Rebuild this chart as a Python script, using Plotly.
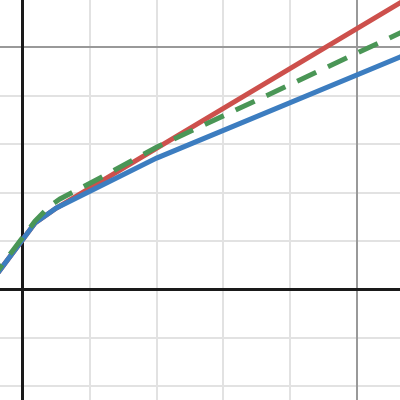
import plotly.graph_objects as go

# Data (grid units: minor = 1, major = 5)
red_x = [-0.5, -0.344, 0.18, 0.5, 2.0, 5.644, 6.0]
red_y = [0.11, 0.40, 1.37, 1.68, 2.91, 5.915, 6.21]

blue_x = [-0.5, -0.344, 0.18, 0.5, 2.0, 5.644, 6.0]
blue_y = [0.11, 0.40, 1.37, 1.68, 2.71, 4.80, 5.00]

green_x = [-0.5, -0.344, 0.0, 0.18, 0.404, 0.554, 1.153, 2.006, 5.644, 6.0]
green_y = [0.16, 0.44, 1.06, 1.41, 1.72, 1.866, 2.30, 2.94, 5.296, 5.53]

x_range = [-0.344, 5.644]
y_range = [-2.287, 5.977]

fig = go.Figure()
fig.add_trace(go.Scatter(x=red_x, y=red_y, mode="lines",
                         line=dict(color="#cd504c", width=5)))
fig.add_trace(go.Scatter(x=blue_x, y=blue_y, mode="lines",
                         line=dict(color="#3c7dc0", width=5)))
fig.add_trace(go.Scatter(x=green_x, y=green_y, mode="lines",
                         line=dict(color="#4a9656", width=5, dash="21px,13px")))

axis_common = dict(
    showticklabels=False, ticks="", showline=False,
    showgrid=True, gridcolor="#999999", gridwidth=2,
    tick0=0, dtick=5,
    zeroline=True, zerolinecolor="#1a1a1a", zerolinewidth=3,
    minor=dict(dtick=1, tick0=0, showgrid=True, gridcolor="#e2e2e2", gridwidth=2, ticks=""),
    fixedrange=True,
)

fig.update_layout(
    width=400, height=400,
    margin=dict(l=0, r=0, t=0, b=0),
    paper_bgcolor="white", plot_bgcolor="white",
    showlegend=False,
    xaxis=dict(range=x_range, **axis_common),
    yaxis=dict(range=y_range, **axis_common),
)

fig.write_html("out.html", config={"displayModeBar": False},
               post_script="document.body.style.margin='0';document.body.style.overflow='hidden';")
